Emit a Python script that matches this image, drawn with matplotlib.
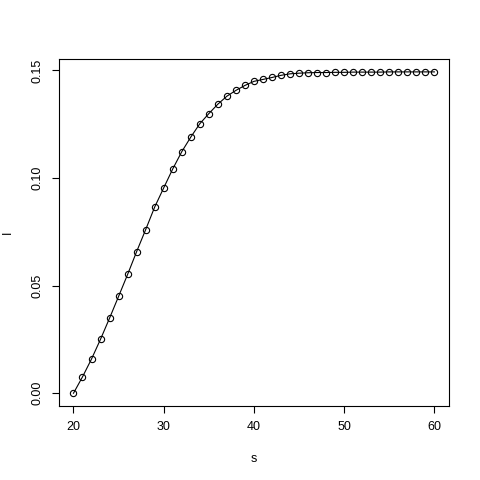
import matplotlib
matplotlib.use("Agg")
import matplotlib.pyplot as plt
import numpy as np

# values
s = list(range(20, 61))
I = [0.0000, 0.0076, 0.0159, 0.0251, 0.0349, 0.0450, 0.0552, 0.0658, 0.0760, 0.0865,
     0.0954, 0.1042, 0.1122, 0.1190, 0.1252, 0.1299, 0.1343, 0.1380, 0.1407, 0.1430,
     0.1449, 0.1458, 0.1467, 0.1477, 0.1484, 0.1487, 0.1489, 0.1490, 0.1490, 0.1491,
     0.1491, 0.1492, 0.1492, 0.1492, 0.1492, 0.1493, 0.1493, 0.1493, 0.1493, 0.1493,
     0.1493]
xticks = [20, 30, 40, 50, 60]
yticks = [0.00, 0.05, 0.10, 0.15]

plt.rcParams["font.family"] = ["Liberation Sans", "DejaVu Sans"]

fig = plt.figure(figsize=(4.8, 4.8), dpi=100)
ax = fig.add_axes([0.123, 0.154, 0.812, 0.723])

ax.plot(s, I, color="black", linewidth=0.8, marker="o", markersize=4.5,
        markerfacecolor="none", markeredgecolor="black", markeredgewidth=0.8)

xr = max(s) - min(s)
ax.set_xlim(min(s) - 0.04 * xr, max(s) + 0.04 * xr)
yr = max(I) - min(I)
ax.set_ylim(min(I) - 0.04 * yr, max(I) + 0.04 * yr)

ax.set_xticks(xticks)
ax.set_xticklabels([str(v) for v in xticks])
ax.set_yticks(yticks)
ax.set_yticklabels([f"{v:.2f}" for v in yticks], rotation=90, va="center")
ax.tick_params(direction="out", length=5, width=0.8, labelsize=9, pad=6)

for sp in ax.spines.values():
    sp.set_linewidth(0.8)

ax.set_xlabel("s", fontsize=9, labelpad=14)
ax.set_ylabel("I", fontsize=9, labelpad=13)

fig.savefig("out.png", dpi=100)
